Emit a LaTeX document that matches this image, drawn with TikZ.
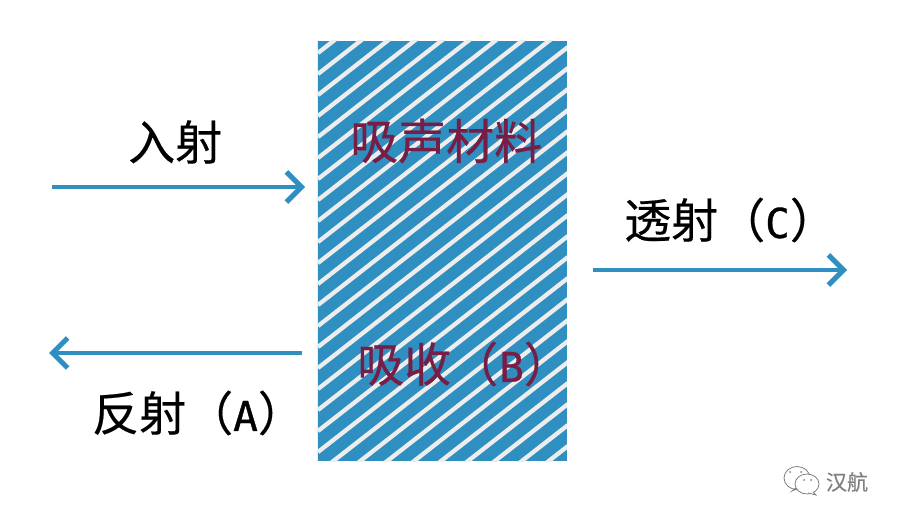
\documentclass[tikz,border=0pt]{standalone}
\usepackage{fontspec}
\setmainfont[FakeBold=0.4]{Noto Sans CJK SC}
\newfontfamily\latinmono[FakeBold=0.8]{DejaVu Sans Mono}
\usetikzlibrary{arrows.meta}
\definecolor{hblue}{HTML}{2E8FC0}
\definecolor{hstripe}{HTML}{EDEDED}
\definecolor{hplum}{HTML}{771E46}
\definecolor{hgrey}{HTML}{808080}
\newcommand{\ltr}[1]{{\latinmono\fontsize{41}{41}\selectfont #1}}
\tikzset{
  flow/.style={draw=hblue,line width=4.4pt,-{Straight Barb[length=15pt,width=30pt,line width=5pt]}},
  big/.style={inner sep=0pt,anchor=west,font=\fontsize{47}{47}\selectfont,text=black},
  inner/.style={inner sep=0pt,anchor=west,font=\fontsize{48}{48}\selectfont,text=hplum},
  stripe/.style={draw=hstripe,line width=4.3pt},
  bubble/.style={draw=hgrey,line width=0.8pt,fill=white},
}
\begin{document}
\begin{tikzpicture}[x=1pt,y=-1pt]
\useasboundingbox[fill=white] (0,0) rectangle (897,521);
\node[minimum width=249pt,minimum height=420pt,inner sep=0pt,fill=hblue] (panel) at (442.5,251) {};
\begin{scope}
\clip (panel.north west) rectangle (panel.south east);
\foreach \k in {-1,...,32}{
  \draw[stripe] (318,{53+\k*21}) -- (568,{53+\k*21-195});
}
\end{scope}
\draw[hstripe,line width=1pt] (panel.north west) -- (panel.south west);
\node[big] (ru) at (128,142) {入射};
\node[big] (tou) at (624,220) {透射（\ltr{C}）};
\node[big] (fan) at (92,413) {反射（\ltr{A}）};
\node[inner] (mat) at (350,141) {吸声材料};
\node[inner,font=\fontsize{47}{47}\selectfont] (abs) at (357,364) {吸收（\kern1pt\ltr{B}）};
\coordinate (a1) at (52,187);
\coordinate (a2) at (305,187);
\coordinate (b1) at (593,270);
\coordinate (b2) at (847,270);
\coordinate (c1) at (302,353);
\coordinate (c2) at (49,353);
\draw[flow] (a1) -- (a2);
\draw[flow] (b1) -- (b2);
\draw[flow] (c1) -- (c2);
\draw[bubble] (797,478) ellipse (13pt and 11.5pt);
\draw[bubble] (796,488) -- (792,491) -- (797,489);
\draw[bubble] (807,484) ellipse (12pt and 10pt);
\draw[bubble] (813,492) -- (816,495) -- (808,493);
\fill[hgrey] (790,472) circle (1pt) (801,472) circle (1pt) (804,480) circle (1pt) (811,480) circle (1pt);
\node[inner sep=0pt,font=\fontsize{21}{21}\selectfont,text=hgrey] (brand) at (847,482) {汉航};
\end{tikzpicture}
\end{document}
